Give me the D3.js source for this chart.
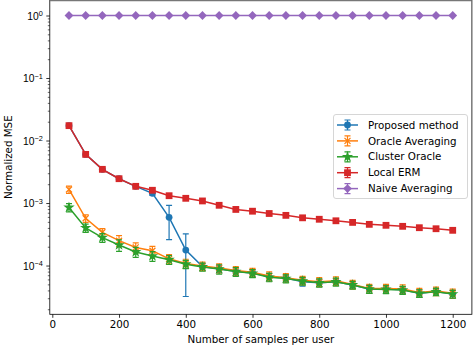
<!DOCTYPE html>
<html><head><meta charset="utf-8">
<script src="https://cdn.jsdelivr.net/npm/d3@7"></script>
<style>body{margin:0;background:#fff}svg{display:block;font-family:"DejaVu Sans",sans-serif}</style>
</head><body><svg id="c" width="474" height="348"></svg>
<script>
const samples = [50,100,150,200,250,300,350,400,450,500,550,600,650,700,750,800,850,900,950,1000,1050,1100,1150,1200];
const proposed = [0.0173,0.0060,0.00346,0.00245,0.00185,0.00143,5.9e-4,1.77e-4,9.6e-5,8.9e-5,8.0e-5,7.6e-5,6.6e-5,6.3e-5,5.5e-5,5.3e-5,5.5e-5,4.9e-5,4.2e-5,4.2e-5,4.1e-5,3.6e-5,3.85e-5,3.5e-5];
const proposedErr = [0,0,0,0,0,1.0e-4,3.3e-4,1.45e-4,1.2e-5,1.2e-5,1.1e-5,1e-5,9e-6,8e-6,8e-6,7e-6,7e-6,6e-6,6e-6,6e-6,5e-6,5e-6,5e-6,5e-6];
const oracleAvg = [1.65e-3,5.7e-4,3.4e-4,2.5e-4,1.95e-4,1.72e-4,1.28e-4,1.08e-4,9.8e-5,9.1e-5,8.3e-5,7.8e-5,6.8e-5,6.4e-5,5.8e-5,5.5e-5,5.7e-5,5.0e-5,4.3e-5,4.3e-5,4.2e-5,3.7e-5,3.9e-5,3.6e-5];
const oracleAvgErr = [2.2e-4,8e-5,5e-5,5e-5,3.5e-5,3e-5,2.2e-5,1.8e-5,1.5e-5,1.5e-5,1.3e-5,1.2e-5,1.1e-5,1e-5,9e-6,9e-6,9e-6,8e-6,7e-6,7e-6,7e-6,6e-6,6e-6,6e-6];
const clusterOracle = [8.5e-4,4.0e-4,2.8e-4,2.13e-4,1.65e-4,1.42e-4,1.24e-4,1.05e-4,9.5e-5,8.8e-5,8.0e-5,7.5e-5,6.5e-5,6.2e-5,5.65e-5,5.3e-5,5.5e-5,4.9e-5,4.2e-5,4.15e-5,4.05e-5,3.6e-5,3.8e-5,3.5e-5];
const clusterOracleErr = [1.3e-4,6e-5,4.5e-5,4.5e-5,3e-5,2.5e-5,2e-5,1.6e-5,1.4e-5,1.5e-5,1.3e-5,1.1e-5,1e-5,9e-6,8e-6,8e-6,8e-6,7e-6,6e-6,6e-6,6e-6,5e-6,5e-6,5e-6];
const localERM = [0.0173,0.0060,0.00346,0.00245,0.00185,0.00160,0.00131,0.00119,0.00108,0.00092,0.00079,0.00074,0.00068,0.000635,0.00058,0.00055,0.00052,0.00049,0.000456,0.00044,0.000424,0.000403,0.000388,0.000366];
const localERMErr = samples.map(()=>0);
const naiveAvg = samples.map(()=>1.0);
const naiveAvgErr = samples.map(()=>0);
const seriesNames = ["Proposed method","Oracle Averaging","Cluster Oracle","Local ERM","Naive Averaging"];
const colors = ["#1f77b4","#ff7f0e","#2ca02c","#d62728","#9467bd"];
const markers = ["circle","x","star","square","diamond"];
const xTicks = [0,200,400,600,800,1000,1200];
const yTicks = [1,1e-1,1e-2,1e-3,1e-4];
const xLabel = "Number of samples per user";
const yLabel = "Normalized MSE";

const svg = d3.select("#c");
const L=49.8, R=471.9, T=0.5, B=314.3;
const x = d3.scaleLinear().domain([-7.5,1257.5]).range([L,R]);
const y = d3.scaleLog().domain([Math.pow(10,-4.78),Math.pow(10,0.248)]).range([B,0]);

const series = [
  {v:proposed,e:proposedErr},{v:oracleAvg,e:oracleAvgErr},{v:clusterOracle,e:clusterOracleErr},
  {v:localERM,e:localERMErr},{v:naiveAvg,e:naiveAvgErr}];

svg.append("clipPath").attr("id","pc").append("rect").attr("x",L).attr("y",0).attr("width",R-L).attr("height",B);
const plot = svg.append("g").attr("clip-path","url(#pc)");

function drawMarker(g, type, cx, cy, col){
  if(type==="circle") g.append("circle").attr("cx",cx).attr("cy",cy).attr("r",3.4).attr("fill",col);
  else if(type==="square") g.append("rect").attr("x",cx-3.4).attr("y",cy-3.4).attr("width",6.8).attr("height",6.8).attr("fill",col);
  else if(type==="diamond") g.append("path").attr("d",`M${cx},${cy-4.4}L${cx+4.4},${cy}L${cx},${cy+4.4}L${cx-4.4},${cy}Z`).attr("fill",col);
  else if(type==="star") g.append("path").attr("d",d3.symbol(d3.symbolStar,40)()).attr("transform",`translate(${cx},${cy})`).attr("fill",col);
  else if(type==="x") g.append("path").attr("d",`M${cx-3},${cy-3}L${cx+3},${cy+3}M${cx-3},${cy+3}L${cx+3},${cy-3}`).attr("stroke",col).attr("stroke-width",1.3).attr("fill","none");
}

series.forEach((s,i)=>{
  const col=colors[i];
  const g=plot.append("g");
  g.append("path").datum(samples.map((d,k)=>[d,s.v[k]]))
    .attr("d",d3.line().x(d=>x(d[0])).y(d=>y(d[1])))
    .attr("fill","none").attr("stroke",col).attr("stroke-width",1.5);
  samples.forEach((d,k)=>{
    const e=s.e[k]; if(!e) return;
    const lo=Math.max(s.v[k]-e,1e-9), hi=s.v[k]+e, cx=x(d);
    g.append("path").attr("d",`M${cx},${y(lo)}V${y(hi)}M${cx-3},${y(lo)}H${cx+3}M${cx-3},${y(hi)}H${cx+3}`)
      .attr("stroke",col).attr("stroke-width",1.2).attr("fill","none");
  });
  samples.forEach((d,k)=>drawMarker(g,markers[i],x(d),y(s.v[k]),col));
});

// axes
const xAxis = svg.append("g").attr("transform",`translate(0,${B})`)
  .call(d3.axisBottom(x).tickValues(xTicks).tickSize(3.5).tickPadding(3).tickFormat(d3.format("d")));
xAxis.select(".domain").remove();
xAxis.selectAll("text").attr("font-size","10.3px").attr("fill","#000").attr("font-family","DejaVu Sans");
xAxis.selectAll("line").attr("stroke","#000").attr("stroke-width",0.8);

const minor=[];
for(let p=-5;p<=0;p++) for(let m=2;m<=9;m++){const v=m*Math.pow(10,p); if(v>y.domain()[0]&&v<y.domain()[1]) minor.push(v);}
const yMinor = svg.append("g").attr("transform",`translate(${L},0)`)
  .call(d3.axisLeft(y).tickValues(minor).tickSize(2).tickFormat(()=>""));
yMinor.select(".domain").remove();
yMinor.selectAll("line").attr("stroke","#000").attr("stroke-width",0.6);

const yAxis = svg.append("g").attr("transform",`translate(${L},0)`)
  .call(d3.axisLeft(y).tickValues(yTicks).tickSize(3.5).tickFormat(()=>""));
yAxis.select(".domain").remove();
yAxis.selectAll("line").attr("stroke","#000").attr("stroke-width",0.8);
yAxis.selectAll(".tick").each(function(d){
  const t=d3.select(this).append("text").attr("x",-7).attr("dy","0.35em").attr("text-anchor","end")
    .attr("font-size","10.3px").attr("fill","#000");
  t.append("tspan").text("10");
  t.append("tspan").attr("dy","-0.45em").attr("font-size","7.3px").text(d3.format(".0f")(Math.log10(d)).replace("-","\u2212"));
});

svg.append("rect").attr("x",L).attr("y",T).attr("width",R-L).attr("height",B-T)
  .attr("fill","none").attr("stroke","#000").attr("stroke-width",0.8);
svg.append("line").attr("x1",L).attr("x2",R).attr("y1",0.5).attr("y2",0.5).attr("stroke","#777").attr("stroke-width",1.5);

svg.append("text").attr("x",(L+R)/2).attr("y",343).attr("text-anchor","middle").attr("font-size","10.3px").text(xLabel);
svg.append("text").attr("transform",`translate(12,${B/2}) rotate(-90)`).attr("text-anchor","middle").attr("font-size","10.3px").text(yLabel);

// legend
const lg=svg.append("g");
lg.append("rect").attr("x",333.5).attr("y",114.5).attr("width",134).attr("height",84).attr("rx",2.5)
  .attr("fill","white").attr("fill-opacity",0.8).attr("stroke","#ccc").attr("stroke-width",0.8);
seriesNames.forEach((n,i)=>{
  const cy=125+i*15.9, col=colors[i];
  lg.append("path").attr("d",`M337,${cy}H358`).attr("stroke",col).attr("stroke-width",1.5);
  lg.append("path").attr("d",`M347.5,${cy-5}V${cy+5}M344.5,${cy-5}H350.5M344.5,${cy+5}H350.5`).attr("stroke",col).attr("stroke-width",1.2);
  drawMarker(lg,markers[i],347.5,cy,col);
  lg.append("text").attr("x",368).attr("y",cy).attr("dy","0.35em").attr("font-size","10.3px").text(n);
});
</script></body></html>
